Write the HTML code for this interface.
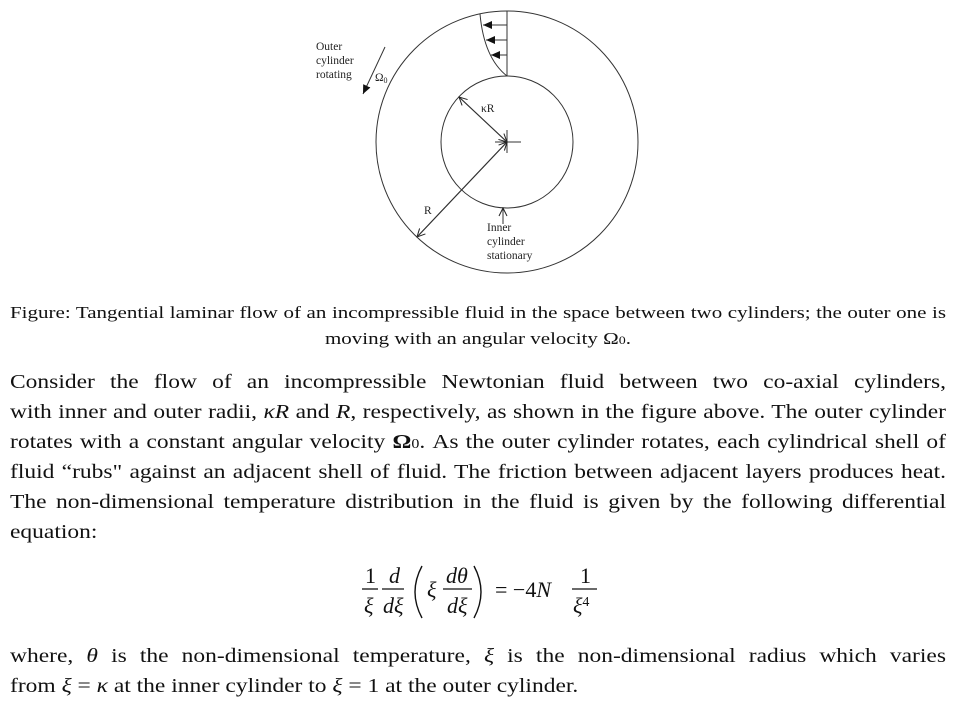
<!DOCTYPE html>
<html><head><meta charset="utf-8"><style>
html,body{margin:0;padding:0;background:#fff;}
body{width:957px;height:702px;position:relative;overflow:hidden;font-family:"Liberation Serif",serif;color:#111;}
.l{position:absolute;left:10px;width:936px;font-size:23.5px;line-height:28px;white-space:nowrap;transform:scaleY(0.86);transform-origin:0 0;}
.j{text-align:justify;text-align-last:justify;white-space:normal;}
.c{position:absolute;left:10px;width:936px;font-size:21px;line-height:24px;transform:scaleY(0.8);transform-origin:0 0;}
svg{position:absolute;left:0;top:0;}
</style></head><body>
<svg width="957" height="702" viewBox="0 0 957 702" font-family="Liberation Serif, serif">
<defs><marker id="o" markerWidth="10" markerHeight="10" refX="9" refY="5" orient="auto" markerUnits="userSpaceOnUse"><path d="M1,1 L9,5 L1,9" fill="none" stroke="#222" stroke-width="1"/></marker>
<marker id="f" markerWidth="10" markerHeight="10" refX="9" refY="5" orient="auto" markerUnits="userSpaceOnUse"><path d="M0,1 L9,5 L0,9z" fill="#111"/></marker></defs>
<g stroke="#333" stroke-width="1" fill="none">
<circle cx="507" cy="142" r="131"/>
<circle cx="507" cy="142" r="66"/>
<line x1="507" y1="11" x2="507" y2="76"/>
<path d="M480,14 Q484,58 507,76"/>
<line x1="507" y1="25" x2="483" y2="25" marker-end="url(#f)"/>
<line x1="507" y1="40" x2="486" y2="40" marker-end="url(#f)"/>
<line x1="507" y1="55" x2="491" y2="55" marker-end="url(#f)"/>
<line x1="495" y1="142" x2="521" y2="142"/>
<line x1="507" y1="130" x2="507" y2="153"/>
<line x1="459" y1="97" x2="507" y2="142" marker-end="url(#o)"/>
<line x1="507" y1="142" x2="459" y2="97" marker-end="url(#o)"/>
<line x1="507" y1="142" x2="417" y2="237" marker-end="url(#o)"/>
<line x1="417" y1="237" x2="507" y2="142" marker-end="url(#o)"/>
<line x1="503" y1="224" x2="503" y2="208" marker-end="url(#o)"/>
<line x1="385" y1="47" x2="363" y2="94" marker-end="url(#f)"/>
</g>
<g font-size="11.5" fill="#222">
<text x="316" y="50">Outer</text><text x="316" y="64">cylinder</text><text x="316" y="78">rotating</text>
<text x="375" y="81">Ω<tspan font-size="8" dy="2">0</tspan></text>
<text x="481" y="112">κR</text>
<text x="424" y="214">R</text>
<text x="487" y="231">Inner</text><text x="487" y="245">cylinder</text><text x="487" y="259">stationary</text>
</g>
<g font-size="22" fill="#111" font-style="italic">
<text x="365" y="583" font-style="normal">1</text>
<text x="364" y="613">ξ</text>
<line x1="362" y1="589" x2="378" y2="589" stroke="#111" stroke-width="1.3"/>
<text x="389" y="583">d</text>
<text x="383" y="613">dξ</text>
<line x1="382" y1="589" x2="404" y2="589" stroke="#111" stroke-width="1.3"/>
<path d="M422,566 Q408,592 422,618" fill="none" stroke="#111" stroke-width="1.4"/>
<text x="427" y="597">ξ</text>
<text x="446" y="583">dθ</text>
<text x="447" y="613">dξ</text>
<line x1="443" y1="589" x2="472" y2="589" stroke="#111" stroke-width="1.3"/>
<path d="M474,566 Q488,592 474,618" fill="none" stroke="#111" stroke-width="1.4"/>
<text x="495" y="597" font-style="normal">= −4<tspan font-style="italic">N</tspan></text>
<text x="580" y="583" font-style="normal">1</text>
<text x="573" y="613">ξ<tspan font-style="normal" font-size="14" dy="-7">4</tspan></text>
<line x1="572" y1="589" x2="597" y2="589" stroke="#111" stroke-width="1.3"/>
</g>
</svg>
<div class="c j" style="top:303px;">Figure: Tangential laminar flow of an incompressible fluid in the space between two cylinders; the outer one is</div>
<div class="c" style="top:329px;text-align:center;">moving with an angular velocity Ω<span style="font-size:14px">0</span>.</div>
<div class="l j" style="top:370px">Consider the flow of an incompressible Newtonian fluid between two co-axial cylinders,</div>
<div class="l j" style="top:400px">with inner and outer radii, <i>κR</i> and <i>R</i>, respectively, as shown in the figure above. The outer cylinder</div>
<div class="l j" style="top:430px">rotates with a constant angular velocity <b>Ω</b><span style="font-size:16px">0</span>. As the outer cylinder rotates, each cylindrical shell of</div>
<div class="l j" style="top:460px">fluid “rubs" against an adjacent shell of fluid. The friction between adjacent layers produces heat.</div>
<div class="l j" style="top:490px">The non-dimensional temperature distribution in the fluid is given by the following differential</div>
<div class="l" style="top:520px">equation:</div>
<div class="l j" style="top:644px">where, <i>θ</i> is the non-dimensional temperature, <i>ξ</i> is the non-dimensional radius which varies</div>
<div class="l" style="top:674px">from <i>ξ</i> = <i>κ</i> at the inner cylinder to <i>ξ</i> = 1 at the outer cylinder.</div>
</body></html>
